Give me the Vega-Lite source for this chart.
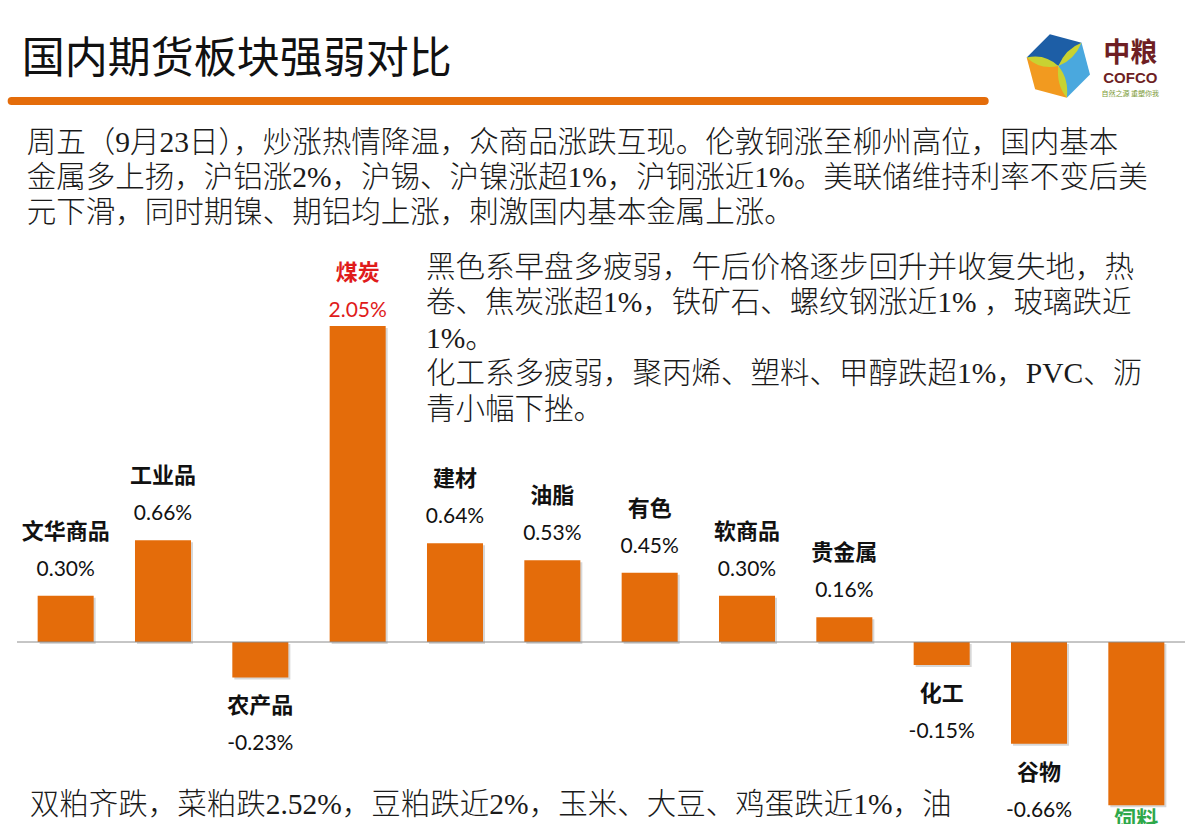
{
  "$schema": "https://vega.github.io/schema/vega-lite/v6.json",
  "width": 1168,
  "height": 824,
  "autosize": {"type": "none"},
  "padding": {"left": 17, "right": 15, "top": 0, "bottom": 0},
  "background": "white",
  "config": {
    "view": {"stroke": null},
    "locale": {"number": {"decimal": ".", "thousands": ",", "grouping": [3], "currency": ["", ""], "minus": "-"}}
  },
  "datasets": {
    "sectors": [
      {"sector": "文华商品", "chg": 0.0030},
      {"sector": "工业品", "chg": 0.0066},
      {"sector": "农产品", "chg": -0.0023},
      {"sector": "煤炭", "chg": 0.0205},
      {"sector": "建材", "chg": 0.0064},
      {"sector": "油脂", "chg": 0.0053},
      {"sector": "有色", "chg": 0.0045},
      {"sector": "软商品", "chg": 0.0030},
      {"sector": "贵金属", "chg": 0.0016},
      {"sector": "化工", "chg": -0.0015},
      {"sector": "谷物", "chg": -0.0066},
      {"sector": "饲料", "chg": -0.0106}
    ],
    "one": [{}]
  },
  "data": {"name": "sectors"},
  "layer": [
    {
      "data": {"name": "one"},
      "mark": {"type": "text", "align": "left", "baseline": "middle", "font": "Noto Sans CJK SC", "fontSize": 43, "color": "#111111", "dx": -16},
      "encoding": {
        "x": {"datum": "文华商品", "bandPosition": 0, "type": "nominal", "axis": null,
          "scale": {"domain": ["文华商品", "工业品", "农产品", "煤炭", "建材", "油脂", "有色", "软商品", "贵金属", "化工", "谷物", "饲料"], "paddingInner": 0.4245, "paddingOuter": 0.2122}},
        "y": {"datum": 0.03777, "type": "quantitative", "axis": null, "scale": {"domain": [-0.01181, 0.04166], "nice": false, "zero": false}},
        "text": {"value": "国内期货板块强弱对比"}
      }
    },
    {
      "data": {"name": "one"},
      "mark": {"type": "rule", "color": "#E46C0A", "strokeWidth": 8, "strokeCap": "round", "xOffset": -26, "x2Offset": 15},
      "encoding": {
        "x": {"datum": "文华商品", "bandPosition": 0},
        "x2": {"datum": "化工", "bandPosition": 1},
        "y": {"datum": 0.03511}
      }
    },
    {
      "data": {"name": "one"},
      "mark": {"type": "point", "shape": "M0,0 L-1,0 L-0.5,-0.87 L0.5,-0.87 Z", "filled": true, "fill": "#1D5EA6", "stroke": null, "opacity": 1, "size": 4300, "angle": 15, "xOffset": -78},
      "encoding": {"x": {"datum": "饲料"}, "y": {"datum": 0.03738}}
    },
    {
      "data": {"name": "one"},
      "mark": {"type": "point", "shape": "M0,0 L0.5,-0.87 L1,0 L0.5,0.87 Z", "filled": true, "fill": "#4AA8DE", "stroke": null, "opacity": 1, "size": 4300, "angle": 15, "xOffset": -78},
      "encoding": {"x": {"datum": "饲料"}, "y": {"datum": 0.03738}}
    },
    {
      "data": {"name": "one"},
      "mark": {"type": "point", "shape": "M0,0 L0.5,0.87 L-0.5,0.87 L-1,0 Z", "filled": true, "fill": "#F29A1F", "stroke": null, "opacity": 1, "size": 4300, "angle": 15, "xOffset": -78},
      "encoding": {"x": {"datum": "饲料"}, "y": {"datum": 0.03738}}
    },
    {
      "data": {"name": "one"},
      "mark": {"type": "point", "shape": "M0,0 Q0.42,-0.3 0.5,-0.87 Q0.08,-0.57 0,0 Z M0,0 Q0.08,0.57 0.5,0.87 Q0.42,0.3 0,0 Z M0,0 Q-0.5,0.27 -1,0 Q-0.5,-0.27 0,0 Z", "filled": true, "fill": "#C8D232", "stroke": null, "opacity": 1, "size": 4300, "angle": 15, "xOffset": -78},
      "encoding": {"x": {"datum": "饲料"}, "y": {"datum": 0.03738}}
    },
    {
      "data": {"name": "one"},
      "mark": {"type": "text", "align": "center", "baseline": "middle", "font": "Noto Sans CJK SC", "fontWeight": "bold", "fontSize": 27, "color": "#6E1F24", "dx": -6},
      "encoding": {"x": {"datum": "饲料"}, "y": {"datum": 0.038157}, "text": {"value": "中粮"}}
    },
    {
      "data": {"name": "one"},
      "mark": {"type": "text", "align": "center", "baseline": "middle", "font": "Liberation Sans", "fontWeight": "bold", "fontSize": 15, "color": "#6E1F24", "dx": -6},
      "encoding": {"x": {"datum": "饲料"}, "y": {"datum": 0.0366}, "text": {"value": "COFCO"}}
    },
    {
      "data": {"name": "one"},
      "mark": {"type": "text", "align": "center", "baseline": "middle", "font": "Noto Sans CJK SC", "fontSize": 7, "color": "#7C9A35", "dx": -6},
      "encoding": {"x": {"datum": "饲料"}, "y": {"datum": 0.03556}, "text": {"value": "自然之源 重塑你我"}}
    },
    {
      "data": {"name": "one"},
      "mark": {"type": "text", "align": "left", "baseline": "middle", "font": "Liberation Serif, Noto Sans CJK SC", "fontWeight": 300, "fontSize": 29.5, "lineHeight": 35, "color": "#1a1a1a", "dx": -11},
      "encoding": {
        "x": {"datum": "文华商品", "bandPosition": 0},
        "y": {"datum": 0.032382},
        "text": {"value": ["周五（9月23日），炒涨热情降温，众商品涨跌互现。伦敦铜涨至柳州高位，国内基本", "金属多上扬，沪铝涨2%，沪锡、沪镍涨超1%，沪铜涨近1%。美联储维持利率不变后美", "元下滑，同时期镍、期铝均上涨，刺激国内基本金属上涨。"]}
      }
    },
    {
      "data": {"name": "one"},
      "mark": {"type": "text", "align": "left", "baseline": "middle", "font": "Liberation Serif, Noto Sans CJK SC", "fontWeight": 300, "fontSize": 29.5, "lineHeight": 35.5, "color": "#1a1a1a", "dx": -1},
      "encoding": {
        "x": {"datum": "建材", "bandPosition": 0},
        "y": {"datum": 0.02427},
        "text": {"value": ["黑色系早盘多疲弱，午后价格逐步回升并收复失地，热", "卷、焦炭涨超1%，铁矿石、螺纹钢涨近1% ，玻璃跌近", "1%。", "化工系多疲弱，聚丙烯、塑料、甲醇跌超1%，PVC、沥", "青小幅下挫。"]}
      }
    },
    {
      "data": {"name": "one"},
      "mark": {"type": "text", "align": "left", "baseline": "middle", "font": "Liberation Serif, Noto Sans CJK SC", "fontWeight": 300, "fontSize": 29.5, "color": "#1a1a1a", "dx": -8},
      "encoding": {
        "x": {"datum": "文华商品", "bandPosition": 0},
        "y": {"datum": -0.010578},
        "text": {"value": "双粕齐跌，菜粕跌2.52%，豆粕跌近2%，玉米、大豆、鸡蛋跌近1%，油"}
      }
    },
    {
      "mark": {"type": "bar", "color": "#7a7a7a", "opacity": 0.3, "xOffset": 2, "x2Offset": 2, "yOffset": 2, "y2Offset": 2},
      "encoding": {
        "x": {"field": "sector", "type": "nominal"},
        "y": {"field": "chg", "type": "quantitative"},
        "y2": {"datum": 0}
      }
    },
    {
      "mark": {"type": "bar", "color": "#E46C0A"},
      "encoding": {
        "x": {"field": "sector", "type": "nominal"},
        "y": {"field": "chg", "type": "quantitative"},
        "y2": {"datum": 0}
      }
    },
    {
      "data": {"name": "one"},
      "mark": {"type": "rule", "color": "#8c8c8c", "strokeWidth": 1},
      "encoding": {"y": {"datum": 0}}
    },
    {
      "transform": [{"filter": "datum.chg > 0 && datum.sector !== '煤炭'"}],
      "mark": {"type": "text", "baseline": "middle", "font": "Noto Sans CJK SC", "fontWeight": "bold", "fontSize": 22, "color": "#111111", "dy": -64},
      "encoding": {
        "x": {"field": "sector", "type": "nominal"},
        "y": {"field": "chg", "type": "quantitative"},
        "text": {"field": "sector"}
      }
    },
    {
      "transform": [{"filter": "datum.chg > 0 && datum.sector !== '煤炭'"}],
      "mark": {"type": "text", "baseline": "middle", "font": "Lato", "fontSize": 21, "color": "#111111", "dy": -26},
      "encoding": {
        "x": {"field": "sector", "type": "nominal"},
        "y": {"field": "chg", "type": "quantitative"},
        "text": {"field": "chg", "type": "quantitative", "format": ".2%"}
      }
    },
    {
      "transform": [{"filter": "datum.chg < 0 && datum.sector !== '饲料'"}],
      "mark": {"type": "text", "baseline": "middle", "font": "Noto Sans CJK SC", "fontWeight": "bold", "fontSize": 22, "color": "#111111", "dy": 29},
      "encoding": {
        "x": {"field": "sector", "type": "nominal"},
        "y": {"field": "chg", "type": "quantitative"},
        "text": {"field": "sector"}
      }
    },
    {
      "transform": [{"filter": "datum.chg < 0 && datum.sector !== '饲料'"}],
      "mark": {"type": "text", "baseline": "middle", "font": "Lato", "fontSize": 21, "color": "#111111", "dy": 67},
      "encoding": {
        "x": {"field": "sector", "type": "nominal"},
        "y": {"field": "chg", "type": "quantitative"},
        "text": {"field": "chg", "type": "quantitative", "format": ".2%"}
      }
    },
    {
      "transform": [{"filter": "datum.sector === '煤炭'"}],
      "mark": {"type": "text", "baseline": "middle", "font": "Noto Sans CJK SC", "fontWeight": "bold", "fontSize": 22, "color": "#E01B1B", "dy": -53},
      "encoding": {
        "x": {"field": "sector", "type": "nominal"},
        "y": {"field": "chg", "type": "quantitative"},
        "text": {"field": "sector"}
      }
    },
    {
      "transform": [{"filter": "datum.sector === '煤炭'"}],
      "mark": {"type": "text", "baseline": "middle", "font": "Lato", "fontSize": 21, "color": "#E01B1B", "dy": -15},
      "encoding": {
        "x": {"field": "sector", "type": "nominal"},
        "y": {"field": "chg", "type": "quantitative"},
        "text": {"field": "chg", "type": "quantitative", "format": ".2%"}
      }
    },
    {
      "transform": [{"filter": "datum.sector === '饲料'"}],
      "mark": {"type": "text", "baseline": "middle", "font": "Noto Sans CJK SC", "fontWeight": "bold", "fontSize": 22, "color": "#2EA84A", "dy": 15},
      "encoding": {
        "x": {"field": "sector", "type": "nominal"},
        "y": {"field": "chg", "type": "quantitative"},
        "text": {"field": "sector"}
      }
    },
    {
      "transform": [{"filter": "datum.sector === '饲料'"}],
      "mark": {"type": "text", "baseline": "middle", "font": "Lato", "fontSize": 21, "color": "#2EA84A", "dy": 53},
      "encoding": {
        "x": {"field": "sector", "type": "nominal"},
        "y": {"field": "chg", "type": "quantitative"},
        "text": {"field": "chg", "type": "quantitative", "format": ".2%"}
      }
    }
  ]
}
